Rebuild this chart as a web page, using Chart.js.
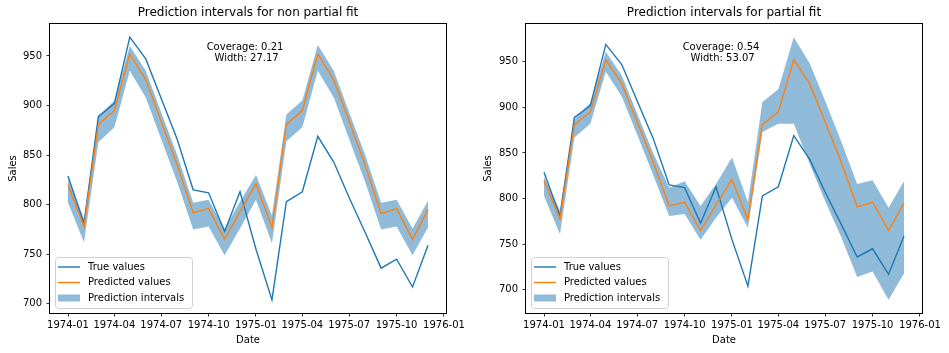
<!DOCTYPE html>
<html>
<head>
<meta charset="utf-8">
<script src="https://cdn.jsdelivr.net/npm/chart.js@4"></script>
<style>
html, body { margin: 0; padding: 0; background: #fff; }
#wrap { position: relative; width: 949px; height: 353px; }
canvas { position: absolute; top: 0; }
</style>
</head>
<body>
<div id="wrap">
  <canvas id="leftChart" width="475" height="353" style="left:0"></canvas>
  <canvas id="rightChart" width="474" height="353" style="left:475px"></canvas>
</div>
<script>
// data
var months = ['1974-01','1974-02','1974-03','1974-04','1974-05','1974-06','1974-07','1974-08','1974-09','1974-10','1974-11','1974-12',
              '1975-01','1975-02','1975-03','1975-04','1975-05','1975-06','1975-07','1975-08','1975-09','1975-10','1975-11','1975-12'];
var trueValues = [829, 781, 889, 902, 969, 947, 907, 866, 815, 812, 773, 813, 755, 704, 803, 813, 869, 843, 807, 772, 736, 745, 717, 759];
var predValues = [820, 778, 881, 895, 952, 926, 884, 840, 792, 796, 765, 793, 821, 777, 881, 895, 952, 926, 884, 840, 791, 796, 765, 795];
var lowerNonPartial = [802, 762, 863, 878, 935, 908, 866, 823, 775, 778, 749, 776, 805, 761, 864, 878, 935, 908, 866, 823, 775, 778, 749, 777];
var upperNonPartial = [826, 786, 889, 905, 960, 935, 893, 850, 802, 805, 776, 803, 830, 789, 891, 905, 961, 935, 893, 850, 802, 805, 776, 804];
var lowerPartial = [803, 761, 867, 882, 939, 912, 870, 826, 781, 783, 755, 779, 801, 768, 873, 882, 882, 838, 797, 758, 714, 720, 689, 718];
var upperPartial = [824, 787, 887, 905, 961, 935, 893, 850, 812, 819, 792, 816, 845, 796, 906, 920, 977, 948, 907, 863, 816, 820, 790, 819];
var xTickLabels = ['1974-01','1974-04','1974-07','1974-10','1975-01','1975-04','1975-07','1975-10','1976-01'];
var yTickValues = [700, 750, 800, 850, 900, 950];

var BLUE = '#1f77b4', ORANGE = '#ff7f0e', BAND = 'rgba(31,119,180,0.5)';
var FONT = '"DejaVu Sans", sans-serif';

function toDay(s) {
  var p = s.split('-');
  return Date.UTC(+p[0], +p[1] - 1, 1) / 86400000;
}
function dayLabel(v) {
  var d = new Date(Math.round(v) * 86400000);
  var m = d.getUTCMonth() + 1;
  return d.getUTCFullYear() + '-' + (m < 10 ? '0' : '') + m;
}

var xs = months.map(toDay);
var xPad = (xs[xs.length - 1] - xs[0]) * 0.05;

function pts(values) {
  return values.map(function (v, i) { return { x: xs[i], y: v }; });
}

// frame, title, coverage text and legend (matplotlib look)
function decor(title, coverage, width) {
  return {
    id: 'decor',
    afterDraw: function (chart) {
      var ctx = chart.ctx, a = chart.chartArea;
      var cx = (a.left + a.right) / 2;
      ctx.save();
      ctx.strokeStyle = '#000';
      ctx.lineWidth = 1;
      ctx.strokeRect(Math.round(a.left) - 0.5, Math.round(a.top) - 0.5,
                     Math.round(a.right - a.left) + 1, Math.round(a.bottom - a.top) + 1);

      ctx.fillStyle = '#000';
      ctx.textAlign = 'center';
      ctx.textBaseline = 'middle';
      ctx.font = '12px ' + FONT;
      ctx.fillText(title, cx, 13);
      ctx.font = '10px ' + FONT;
      ctx.fillText('Coverage: ' + coverage, cx - 3, a.top + 23);
      ctx.fillText(' Width: ' + width, cx - 3, a.top + 34.5);

      // legend
      var lx = a.left + 5, ly = a.bottom - 56, lw = 137, lh = 51;
      ctx.beginPath();
      ctx.roundRect(lx + 0.5, ly + 0.5, lw, lh, 3);
      ctx.fillStyle = 'rgba(255,255,255,0.8)';
      ctx.fill();
      ctx.strokeStyle = '#d0d0d0';
      ctx.stroke();

      var rows = [ly + 10, ly + 25.5, ly + 41];
      ctx.lineWidth = 1.4;
      ctx.strokeStyle = BLUE;
      ctx.beginPath(); ctx.moveTo(lx + 3, rows[0]); ctx.lineTo(lx + 25, rows[0]); ctx.stroke();
      ctx.strokeStyle = ORANGE;
      ctx.beginPath(); ctx.moveTo(lx + 3, rows[1]); ctx.lineTo(lx + 25, rows[1]); ctx.stroke();
      ctx.fillStyle = BAND;
      ctx.fillRect(lx + 3, rows[2] - 3.5, 22, 7);

      ctx.fillStyle = '#000';
      ctx.textAlign = 'left';
      ctx.fillText('True values', lx + 33, rows[0]);
      ctx.fillText('Predicted values', lx + 33, rows[1]);
      ctx.fillText('Prediction intervals', lx + 33, rows[2]);
      ctx.restore();
    }
  };
}

function makeChart(id, lower, upper, yMin, yMax, rightPad, yWidth, title, coverage, width) {
  return new Chart(id, {
    type: 'line',
    data: {
      // first dataset is drawn last (on top)
      datasets: [
        { data: pts(predValues), borderColor: ORANGE, borderWidth: 1.4, pointRadius: 0, fill: false },
        { data: pts(trueValues), borderColor: BLUE, borderWidth: 1.4, pointRadius: 0, fill: false },
        { data: pts(lower), borderWidth: 0, borderColor: 'transparent', pointRadius: 0, fill: false },
        { data: pts(upper), borderWidth: 0, borderColor: 'transparent', pointRadius: 0, fill: '-1', backgroundColor: BAND }
      ]
    },
    options: {
      responsive: false,
      animation: false,
      layout: { padding: { top: 24, right: rightPad, bottom: 0, left: 0 } },
      plugins: { legend: { display: false }, tooltip: { enabled: false } },
      scales: {
        x: {
          type: 'linear',
          min: xs[0] - xPad,
          max: xs[xs.length - 1] + xPad,
          afterBuildTicks: function (scale) {
            scale.ticks = xTickLabels.map(function (s) { return { value: toDay(s) }; });
          },
          afterFit: function (scale) { scale.height = 40; },
          border: { display: false },
          grid: { display: true, drawOnChartArea: false, drawTicks: true, tickLength: 3.5, color: '#000', lineWidth: 0.8 },
          ticks: {
            autoSkip: false, maxRotation: 0, padding: 3, color: '#000',
            font: { family: FONT, size: 10 },
            callback: function (v) { return dayLabel(v); }
          },
          title: { display: true, text: 'Date', color: '#000', font: { family: FONT, size: 10 }, padding: { top: 0, bottom: 7 } }
        },
        y: {
          min: yMin,
          max: yMax,
          afterBuildTicks: function (scale) {
            scale.ticks = yTickValues.map(function (v) { return { value: v }; });
          },
          afterFit: function (scale) { scale.width = yWidth; },
          border: { display: false },
          grid: { display: true, drawOnChartArea: false, drawTicks: true, tickLength: 3.5, color: '#000', lineWidth: 0.8 },
          ticks: {
            padding: 4.5, color: '#000',
            font: { family: FONT, size: 10 },
            callback: function (v) { return v; }
          },
          title: { display: true, text: 'Sales', color: '#000', font: { family: FONT, size: 10 }, padding: { top: 7, bottom: 0 } }
        }
      }
    },
    plugins: [decor(title, coverage, width)]
  });
}

makeChart('leftChart', lowerNonPartial, upperNonPartial, 690.75, 982.25, 29, 50,
          'Prediction intervals for non partial fit', '0.21', '27.17');
makeChart('rightChart', lowerPartial, upperPartial, 674.6, 991.4, 27, 51,
          'Prediction intervals for partial fit', '0.54', '53.07');
</script>
</body>
</html>
